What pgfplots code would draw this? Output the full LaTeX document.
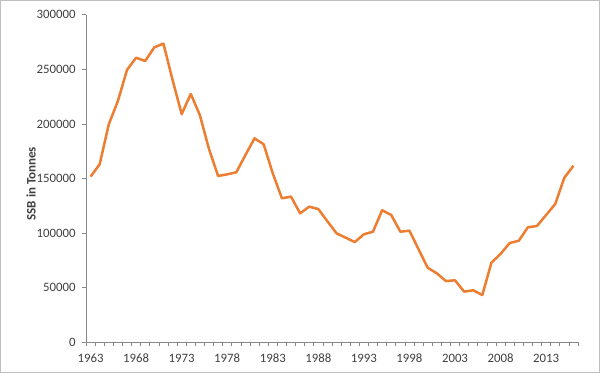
\documentclass[border=0pt]{standalone}
\usepackage{pgfplots}
\pgfplotsset{compat=1.18}
\usepackage{fontspec}
\setmainfont{Carlito}
\definecolor{ssb}{HTML}{ED7D31}
\definecolor{axisgray}{HTML}{898989}
\definecolor{txt}{HTML}{404040}
\definecolor{framegray}{HTML}{BFBFBF}
\begin{document}
\begin{tikzpicture}
\begin{axis}[
  scale only axis,
  width=492bp, height=327.6bp,
  xmin=1962.5, xmax=2016.5,
  ymin=0, ymax=300000,
  axis x line*=bottom, axis y line*=left,
  axis line style={axisgray, line width=0.75bp},
  xtick={1963,1968,...,2013},
  ytick={0,50000,...,300000},
  minor xtick={1962.5,1963.5,...,2016.6},
  minor ytick={0,50000,...,300000},
  major tick length=0pt,
  minor tick length=4bp,
  tick align=outside,
  minor tick style={axisgray, line width=0.75bp},
  /pgf/number format/assume math mode=true,
  /pgf/number format/fixed,
  /pgf/number format/1000 sep={},
  xticklabel={\pgfmathprintnumber[fixed,1000 sep={}]{\tick}},
  tick label style={font=\fontsize{12.8bp}{15bp}\selectfont, text=txt, inner sep=0pt},
  yticklabel style={anchor=east, xshift=-10.3bp},
  xticklabel style={anchor=north, yshift=-11.6bp},
  scaled y ticks=false,
  ylabel={SSB in Tonnes},
  ylabel style={at={(axis description cs:-0.1118,0.4841)}, anchor=center, font=\bfseries\fontsize{13bp}{15bp}\selectfont, text=txt},
  clip=false,
]
\addplot[ssb, line width=2.5bp, line join=round] coordinates {
(1963,151700) (1964,163000) (1965,199600) (1966,221000) (1967,249400)
(1968,260600) (1969,257600) (1970,270100) (1971,273500) (1972,240200)
(1973,209000) (1974,227400) (1975,208000) (1976,177000) (1977,152300)
(1978,153800) (1979,155700) (1980,171500) (1981,186800) (1982,181300)
(1983,154700) (1984,131900) (1985,133400) (1986,118100) (1987,124200)
(1988,122000) (1989,110800) (1990,99800) (1991,95800) (1992,91800)
(1993,98900) (1994,101300) (1995,120900) (1996,116600) (1997,101300)
(1998,102200) (1999,85200) (2000,68300) (2001,63200) (2002,56100)
(2003,56800) (2004,46400) (2005,47600) (2006,43300) (2007,73000)
(2008,80900) (2009,90900) (2010,93000) (2011,105300) (2012,106500)
(2013,116600) (2014,126600) (2015,150700) (2016,161700)
};
\coordinate (sw) at (rel axis cs:0,0);
\coordinate (ne) at (rel axis cs:1,1);
\end{axis}
\draw[framegray, line width=0.75bp] ([shift={(-85.6bp,-30.3bp)}]sw) rectangle ([shift={(21.6bp,14.3bp)}]ne);
\pgfresetboundingbox
\path[use as bounding box] ([shift={(-86bp,-30.7bp)}]sw) rectangle ([shift={(22bp,14.7bp)}]ne);
\end{tikzpicture}
\end{document}
